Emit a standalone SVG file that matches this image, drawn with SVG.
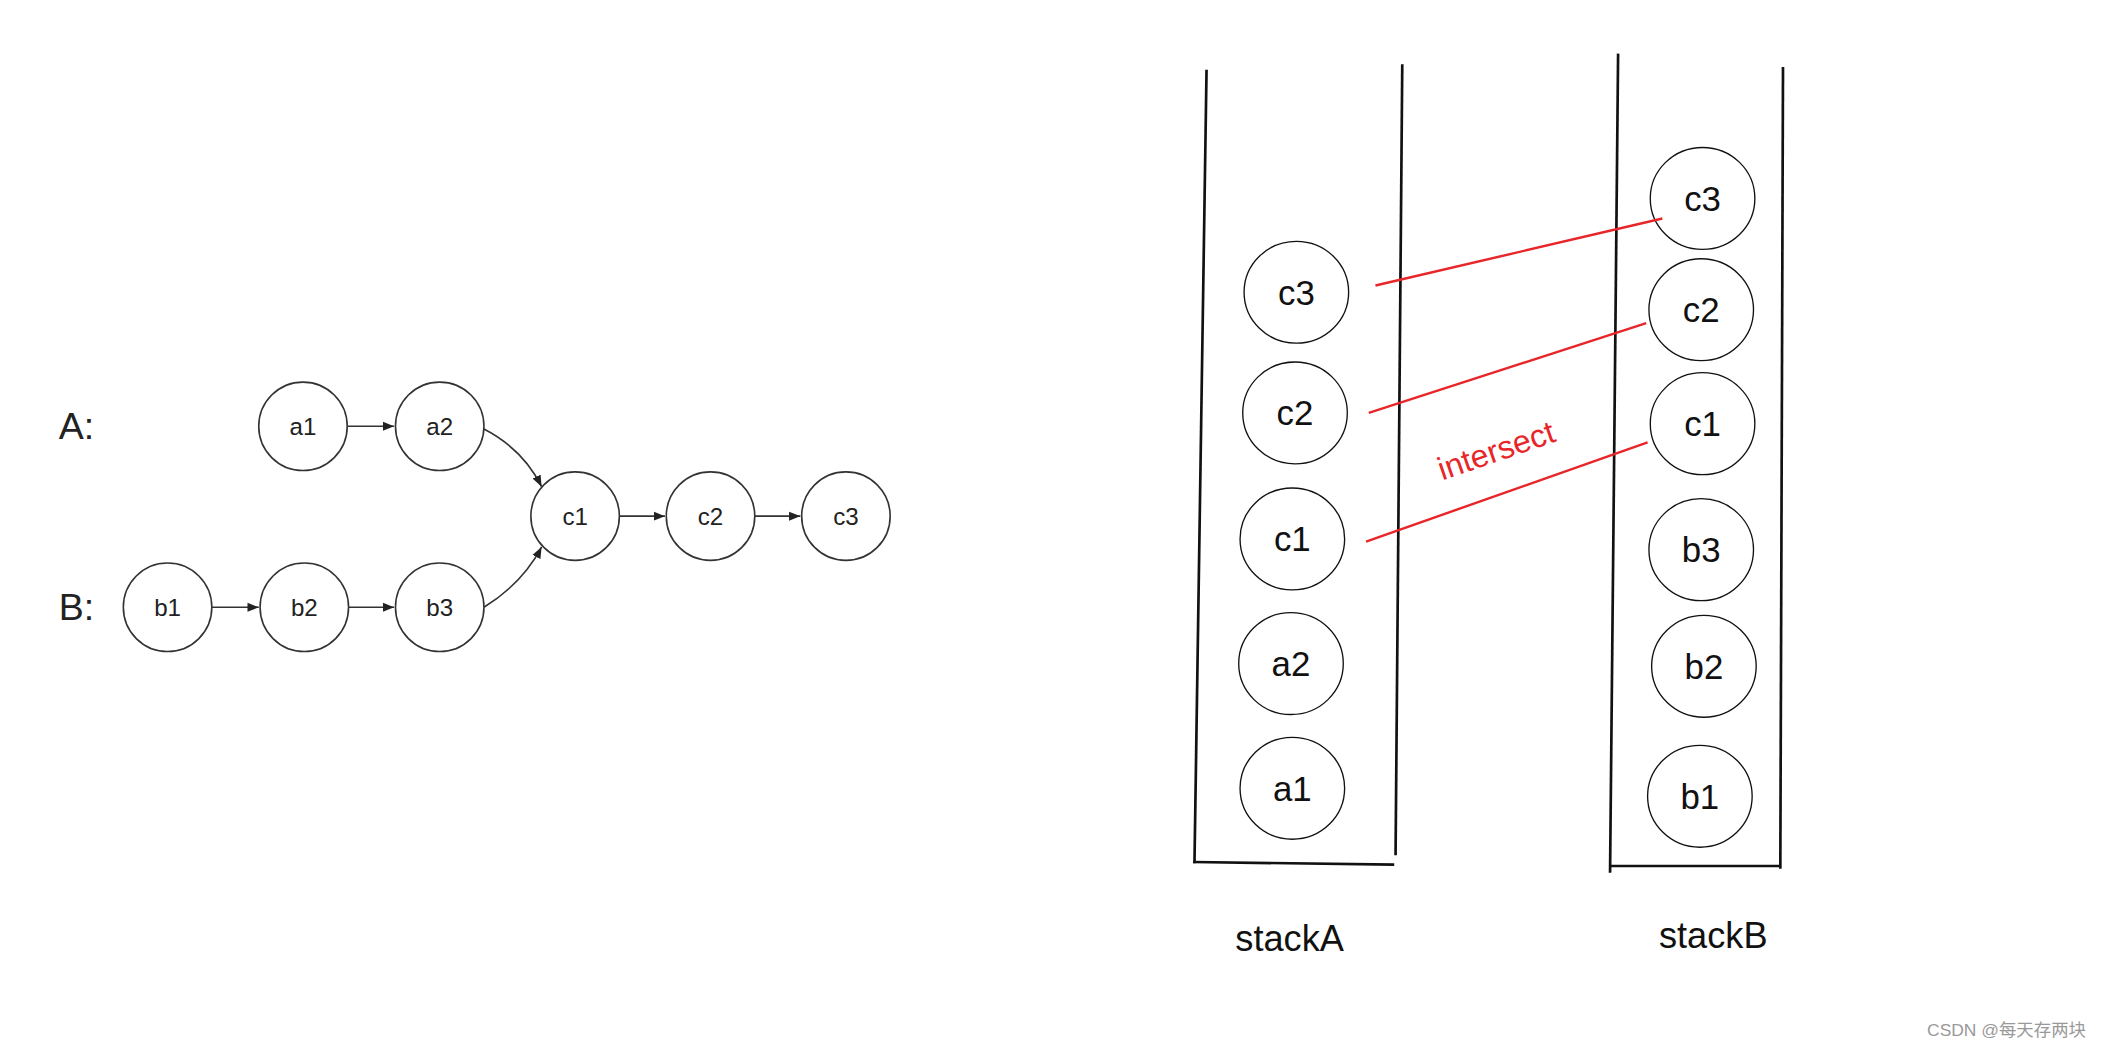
<svg xmlns="http://www.w3.org/2000/svg" width="2102" height="1050" viewBox="0 0 2102 1050">
<style>
.n{fill:#fff;stroke:#333;stroke-width:1.2}
.t{font-family:"Liberation Sans",Arial,sans-serif;text-anchor:middle;dominant-baseline:central;fill:#222}
.s{font-size:18px}
.b{font-size:26px;fill:#111}
.e{stroke:#333;stroke-width:1.2;fill:none}
.w{stroke:#111;stroke-width:2;fill:none}
.r{stroke:#e8262a;stroke-width:1.8}
.k{fill:#fff;stroke:#111;stroke-width:1}
</style>
<defs><marker id="ar" viewBox="0 0 10 10" refX="10" refY="5" markerWidth="7" markerHeight="7" orient="auto"><path d="M0,1 L10,5 L0,9 z" fill="#222"/></marker></defs>
<rect width="2102" height="1050" fill="#fff"/>
<g transform="scale(1.3406)">
<text class="t" x="57" y="318" style="font-size:28px">A:</text>
<text class="t" x="57" y="453" style="font-size:28px">B:</text>
<g id="edges">
<line class="e" x1="259" y1="318" x2="294" y2="318" marker-end="url(#ar)"/>
<path class="e" d="M361,320 Q390,335 404,363" marker-end="url(#ar)"/>
<path class="e" d="M361,453 Q390,435 404,408" marker-end="url(#ar)"/>
<line class="e" x1="158" y1="453" x2="193" y2="453" marker-end="url(#ar)"/>
<line class="e" x1="260" y1="453" x2="294" y2="453" marker-end="url(#ar)"/>
<line class="e" x1="462" y1="385" x2="496" y2="385" marker-end="url(#ar)"/>
<line class="e" x1="563" y1="385" x2="597" y2="385" marker-end="url(#ar)"/>
</g>
<g id="a1"><circle class="n" cx="226" cy="318" r="33"/><text class="t s" x="226" y="318">a1</text></g>
<g id="a2"><circle class="n" cx="328" cy="318" r="33"/><text class="t s" x="328" y="318">a2</text></g>
<g id="c1"><circle class="n" cx="429" cy="385" r="33"/><text class="t s" x="429" y="385">c1</text></g>
<g id="c2"><circle class="n" cx="530" cy="385" r="33"/><text class="t s" x="530" y="385">c2</text></g>
<g id="c3"><circle class="n" cx="631" cy="385" r="33"/><text class="t s" x="631" y="385">c3</text></g>
<g id="b1"><circle class="n" cx="125" cy="453" r="33"/><text class="t s" x="125" y="453">b1</text></g>
<g id="b2"><circle class="n" cx="227" cy="453" r="33"/><text class="t s" x="227" y="453">b2</text></g>
<g id="b3"><circle class="n" cx="328" cy="453" r="33"/><text class="t s" x="328" y="453">b3</text></g>

<g id="stackA">
<line class="w" x1="900" y1="52" x2="891" y2="644"/>
<line class="w" x1="1046" y1="48" x2="1041" y2="638"/>
<line class="w" x1="890" y1="643" x2="1040" y2="645"/>
<text class="t b" x="962" y="700" style="font-size:27px">stackA</text>
</g>
<g id="stackB">
<line class="w" x1="1207" y1="40" x2="1201" y2="651"/>
<line class="w" x1="1330" y1="50" x2="1328" y2="648"/>
<line class="w" x1="1201" y1="646" x2="1328" y2="646"/>
<text class="t b" x="1278" y="698" style="font-size:27px">stackB</text>
</g>
<g id="sa_c3"><ellipse class="k" cx="967" cy="218" rx="39" ry="38"/><text class="t b" x="967" y="218">c3</text></g>
<g id="sa_c2"><ellipse class="k" cx="966" cy="308" rx="39" ry="38"/><text class="t b" x="966" y="308">c2</text></g>
<g id="sa_c1"><ellipse class="k" cx="964" cy="402" rx="39" ry="38"/><text class="t b" x="964" y="402">c1</text></g>
<g id="sa_a2"><ellipse class="k" cx="963" cy="495" rx="39" ry="38"/><text class="t b" x="963" y="495">a2</text></g>
<g id="sa_a1"><ellipse class="k" cx="964" cy="588" rx="39" ry="38"/><text class="t b" x="964" y="588">a1</text></g>
<g id="sb_c3"><ellipse class="k" cx="1270" cy="148" rx="39" ry="38"/><text class="t b" x="1270" y="148">c3</text></g>
<g id="sb_c2"><ellipse class="k" cx="1269" cy="231" rx="39" ry="38"/><text class="t b" x="1269" y="231">c2</text></g>
<g id="sb_c1"><ellipse class="k" cx="1270" cy="316" rx="39" ry="38"/><text class="t b" x="1270" y="316">c1</text></g>
<g id="sb_b3"><ellipse class="k" cx="1269" cy="410" rx="39" ry="38"/><text class="t b" x="1269" y="410">b3</text></g>
<g id="sb_b2"><ellipse class="k" cx="1271" cy="497" rx="39" ry="38"/><text class="t b" x="1271" y="497">b2</text></g>
<g id="sb_b1"><ellipse class="k" cx="1268" cy="594" rx="39" ry="38"/><text class="t b" x="1268" y="594">b1</text></g>
<g id="links">
<line class="r" x1="1026" y1="213" x2="1240" y2="163"/>
<line class="r" x1="1021" y1="308" x2="1228" y2="241"/>
<line class="r" x1="1019" y1="404" x2="1229" y2="330"/>
</g>
<text class="t" x="1116" y="336" transform="rotate(-19 1116 336)" style="font-size:24px;fill:#e8262a">intersect</text>
<text x="1556" y="768" style="font-family:'Liberation Sans','Noto Sans CJK SC',sans-serif;font-size:13px;fill:#999;text-anchor:end;dominant-baseline:central">CSDN @每天存两块</text>
</g>
</svg>
